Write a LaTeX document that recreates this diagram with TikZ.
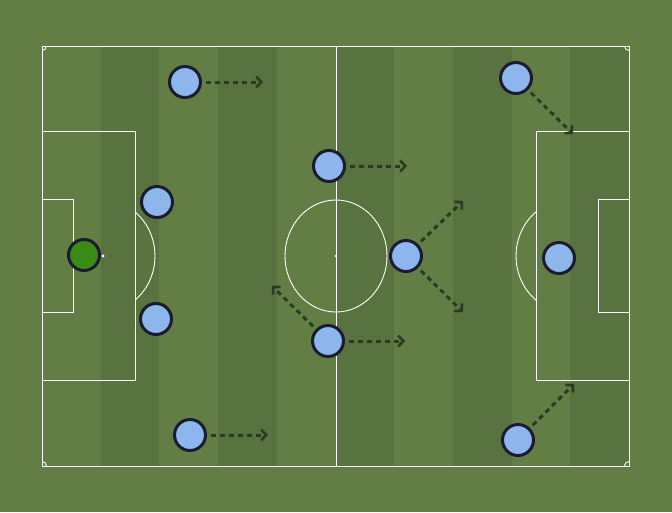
\documentclass[tikz,border=0pt]{standalone}
\usetikzlibrary{arrows.meta,shadows}
\definecolor{grass}{HTML}{627E44}
\definecolor{stripe}{HTML}{58733F}
\definecolor{shirt}{HTML}{8DB6ED}
\definecolor{keepershirt}{HTML}{3A8B15}
\definecolor{rim}{HTML}{1C1C30}
\definecolor{runcol}{HTML}{2B3B22}
\begin{document}
\begin{tikzpicture}
[x=1pt,y=-1pt,%
  pitchline/.style={draw=white,line width=0.9pt},%
  player/.style={shape=circle,minimum size=31pt,inner sep=0pt,fill=shirt,draw=rim,line width=3pt,%
    drop shadow={opacity=0.35,shadow xshift=0.6pt,shadow yshift=-0.8pt}},%
  keeper/.style={player,fill=keepershirt},%
  run/.style={draw=runcol,line width=3pt,dash pattern=on 5pt off 4pt,shorten <=4pt,%
    -{Straight Barb[length=5pt,width=11pt,line width=2.6pt]}}]
\useasboundingbox[fill=grass] (0,0) rectangle (672,512);
\foreach \i in {1,3,5,7,9}
  \fill[stripe] ({42+\i*58.7},46) rectangle ({42+(\i+1)*58.7},466);
\draw[pitchline] (42,46) rectangle (629,466);
\draw[pitchline] (336,46) -- (336,466);
\draw[pitchline] (336,256) ellipse [x radius=51,y radius=56];
\fill[white] (336,256) circle [radius=1.3];
\draw[pitchline] (42,131) rectangle (135,380);
\draw[pitchline] (42,199) rectangle (73,312);
\draw[pitchline] (536,131) rectangle (629,380);
\draw[pitchline] (598,199) rectangle (629,312);
\fill[white] (103,256) circle [radius=1.6];
\fill[white] (568,256) circle [radius=1.6];
\begin{scope}
  \clip (135,46) rectangle (200,466);
  \draw[pitchline] (103,256) ellipse [x radius=52,y radius=56];
\end{scope}
\begin{scope}
  \clip (470,46) rectangle (536,466);
  \draw[pitchline] (568,256) ellipse [x radius=52,y radius=56];
\end{scope}
\begin{scope}
  \clip (42,46) rectangle (629,466);
  \foreach \cx/\cy in {42/46,629/46,42/466,629/466}
    \draw[pitchline] (\cx,\cy) circle [radius=4.5];
\end{scope}
\node[keeper] (gk) at (84,255) {};
\node[player] (defA) at (157,202) {};
\node[player] (defB) at (156,319) {};
\node[player] (wingA) at (185,82) {};
\node[player] (wingB) at (190,435) {};
\node[player] (midA) at (329,166) {};
\node[player] (midB) at (328,341) {};
\node[player] (pivot) at (406,256) {};
\node[player] (fwdA) at (516,78) {};
\node[player] (fwdB) at (559,258) {};
\node[player] (fwdC) at (518,440) {};
\coordinate (wingAto) at (263,82);
\coordinate (wingBto) at (268,435);
\coordinate (midAto) at (407,166);
\coordinate (midBto) at (405,341);
\coordinate (midBback) at (272,286);
\coordinate (pivotup) at (463,201);
\coordinate (pivotdown) at (463,312);
\coordinate (fwdAto) at (573,134);
\coordinate (fwdCto) at (574,384);
\draw[run] (wingA) -- (wingAto);
\draw[run] (wingB) -- (wingBto);
\draw[run] (midA) -- (midAto);
\draw[run] (midB) -- (midBto);
\draw[run] (midB) -- (midBback);
\draw[run] (pivot) -- (pivotup);
\draw[run] (pivot) -- (pivotdown);
\draw[run] (fwdA) -- (fwdAto);
\draw[run] (fwdC) -- (fwdCto);
\end{tikzpicture}
\end{document}
